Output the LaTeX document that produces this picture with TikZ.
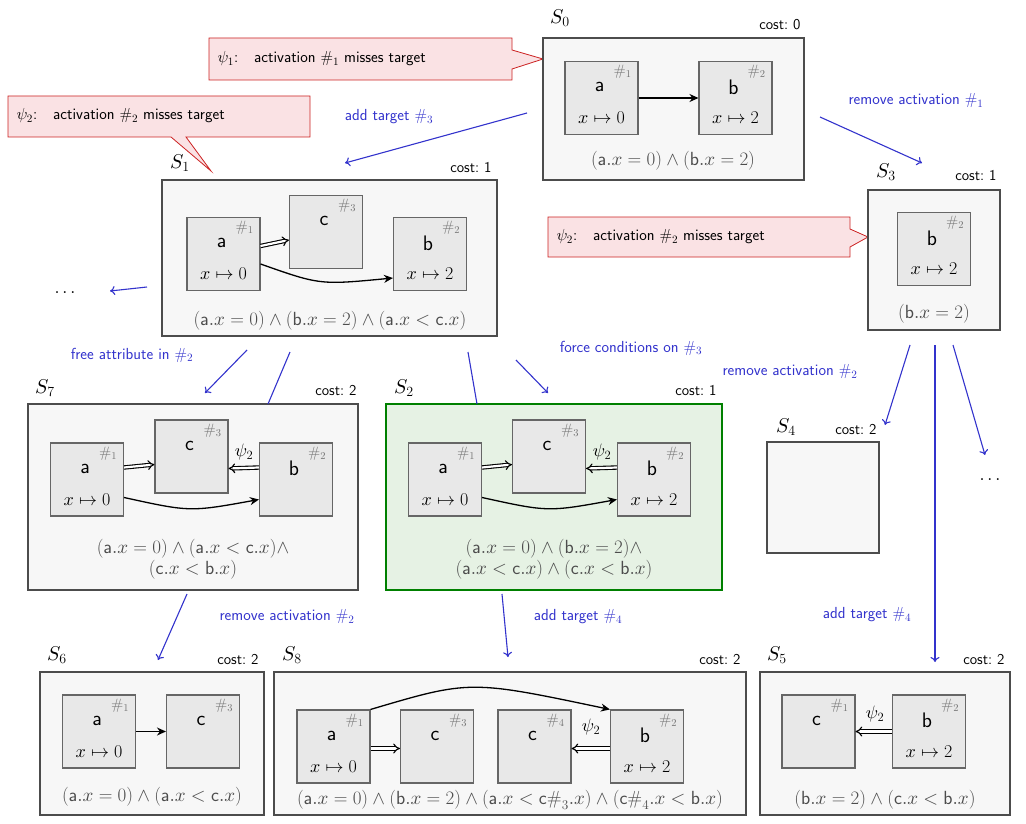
\RequirePackage{fix-cm}
\documentclass[tikz,border=0pt]{standalone}
\usetikzlibrary{arrows.meta,calc}
\definecolor{myblue}{RGB}{51,51,204}
\definecolor{cred}{RGB}{204,34,34}
\definecolor{cpink}{RGB}{250,226,228}
\definecolor{cgreen}{RGB}{0,128,0}
\definecolor{lgreen}{RGB}{230,242,228}
\DeclareFontShape{OML}{cmm}{m}{it}{<->cmmi10}{}
\DeclareFontShape{OMS}{cmsy}{m}{n}{<->cmsy10}{}
\begin{document}
\begin{tikzpicture}[x=1pt,y=-1pt,
  outer/.style={draw=black!70,line width=2pt,fill=black!3},
  ibox/.style={draw=black!60,line width=1.1pt,fill=black!9,minimum width=73pt,minimum height=73pt,inner sep=0pt},
  let/.style={font=\sffamily\fontsize{21}{23}\selectfont},
  idx/.style={font=\sffamily\fontsize{15}{17}\selectfont,text=black!55},
  val/.style={font=\fontsize{18}{20}\selectfont},
  frm/.style={font=\fontsize{19}{21}\selectfont,text=black!70},
  sl/.style={font=\fontsize{20}{22}\selectfont},
  cost/.style={font=\sffamily\fontsize{15}{17}\selectfont,anchor=east},
  blab/.style={font=\sffamily\fontsize{16}{18}\selectfont,text=myblue},
  barr/.style={draw=myblue,line width=1.1pt,-{To[length=5pt,width=9pt]}},
  bline/.style={draw=myblue,line width=1.1pt},
  sarr/.style={line width=1.3pt,-{Stealth[length=9pt,width=8pt]}},
  darr/.style={double,double distance=2.2pt,line width=1.1pt,-{Implies}},
  call/.style={draw=cred,fill=cpink,line width=0.8pt},
  ctext/.style={font=\sffamily\fontsize{16}{18}\selectfont,anchor=west}
]
\newcommand\ibx[5]{%
  \node[ibox] (#1) at (#2) {};
  \node[let] at ([xshift=-2pt,yshift=11pt]#1.center) {#3};
  \node[idx] at ([xshift=-16pt,yshift=-11pt]#1.north east) {\#$_{#4}$};
  \node[val] at ([yshift=-20pt]#1.center) {#5};}
\newcommand\hs{\mbox{\sffamily\#}}
\useasboundingbox (0,0) rectangle (1026,824);

% callouts
\draw[call] (209,38) -- (512,38) -- (512,50) -- (543,59) -- (512,69) -- (512,80) -- (209,80) -- cycle;
\node[ctext] (c1) at (214,59) {$\psi_1$:\quad activation \#$_1$ misses target};
\draw[call] (8,96) -- (310,96) -- (310,137) -- (186,137) -- (211,171) -- (171,137) -- (8,137) -- cycle;
\node[ctext] (c2) at (13,116) {$\psi_2$:\quad activation \#$_2$ misses target};
\draw[call] (548,217) -- (850,217) -- (850,229) -- (868,237) -- (850,247) -- (850,257) -- (548,257) -- cycle;
\node[ctext] (c3) at (553,237) {$\psi_2$:\quad activation \#$_2$ misses target};

% S0
\draw[outer] (543,38) rectangle (804,180);
\node[sl] (s0) at (560,18) {$S_0$};
\node[cost] (k0) at (804,25) {cost:~0};
\ibx{a0}{601.5,98}{a}{1}{$x\mapsto 0$}
\ibx{b0}{735.5,98}{b}{2}{$x\mapsto 2$}
\draw[sarr] (a0) -- (b0);
\node[frm] (f0) at (673,161) {$(\mathsf{a}.x=0)\wedge(\mathsf{b}.x=2)$};

% S1
\draw[outer] (162,180) rectangle (497,336);
\node[sl] (s1) at (180,163) {$S_1$};
\node[cost] (k1) at (495,168) {cost:~1};
\ibx{a1}{223.5,254}{a}{1}{$x\mapsto 0$}
\ibx{c1b}{326,232}{c}{3}{}
\ibx{b1}{430,254}{b}{2}{$x\mapsto 2$}
\draw[darr] ([yshift=8pt]a1.east) -- ([yshift=-8pt]c1b.west);
\draw[sarr] ([yshift=-10pt]a1.east) .. controls (320,285) .. ([yshift=-24pt]b1.west);
\node[frm] (f1) at (330,321) {$(\mathsf{a}.x=0)\wedge(\mathsf{b}.x=2)\wedge(\mathsf{a}.x<\mathsf{c}.x)$};

% S3
\draw[outer] (868,190) rectangle (1000,330);
\node[sl] (s3) at (886,172) {$S_3$};
\node[cost] (k3) at (1000,176) {cost:~1};
\ibx{b3}{934,249}{b}{2}{$x\mapsto 2$}
\node[frm] (f3) at (934,314) {$(\mathsf{b}.x=2)$};

% S7
\draw[outer] (28,404) rectangle (358,590);
\node[sl] (s7) at (45,388) {$S_7$};
\node[cost] (k7) at (360,391) {cost:~2};
\ibx{a7}{87,479.5}{a}{1}{$x\mapsto 0$}
\ibx{c7}{191.5,456.5}{c}{3}{}
\ibx{b7}{296,479.5}{b}{2}{}
\draw[darr] ([yshift=12pt]a7.east) -- ([yshift=-8pt]c7.west);
\draw[darr] ([yshift=12pt]b7.west) -- ([yshift=-12pt]c7.east);
\node[val] (p7) at (244,452) {$\psi_2$};
\draw[sarr] ([yshift=-18pt]a7.east) .. controls (190,512) .. ([yshift=-20pt]b7.west);
\node[frm,align=center] (f7) at (193,559) {$(\mathsf{a}.x=0)\wedge(\mathsf{a}.x<\mathsf{c}.x)\wedge$\\[0pt]$(\mathsf{c}.x<\mathsf{b}.x)$};

% S2
\draw[draw=cgreen,line width=2pt,fill=lgreen] (386,404) rectangle (722,590);
\node[sl] (s2) at (404,388) {$S_2$};
\node[cost] (k2) at (720,391) {cost:~1};
\ibx{a2}{445,479.5}{a}{1}{$x\mapsto 0$}
\ibx{c2}{549,456.5}{c}{3}{}
\ibx{b2}{654,479.5}{b}{2}{$x\mapsto 2$}
\draw[darr] ([yshift=12pt]a2.east) -- ([yshift=-8pt]c2.west);
\draw[darr] ([yshift=12pt]b2.west) -- ([yshift=-12pt]c2.east);
\node[val] (p2) at (602,452) {$\psi_2$};
\draw[sarr] ([yshift=-18pt]a2.east) .. controls (548,512) .. ([yshift=-20pt]b2.west);
\node[frm,align=center] (f2) at (554,559) {$(\mathsf{a}.x=0)\wedge(\mathsf{b}.x=2)\wedge$\\[0pt]$(\mathsf{a}.x<\mathsf{c}.x)\wedge(\mathsf{c}.x<\mathsf{b}.x)$};

% S4
\draw[outer] (767,442) rectangle (879,553);
\node[sl] (s4) at (786,427) {$S_4$};
\node[cost] (k4) at (880,430) {cost:~2};

% S6
\draw[outer] (40,672) rectangle (264,815);
\node[sl] (s6) at (57,655) {$S_6$};
\node[cost] (k6) at (262,660) {cost:~2};
\ibx{a6}{99,731.5}{a}{1}{$x\mapsto 0$}
\ibx{c6}{203,731.5}{c}{3}{}
\draw[sarr] (a6) -- (c6);
\node[frm] (f6) at (152,797) {$(\mathsf{a}.x=0)\wedge(\mathsf{a}.x<\mathsf{c}.x)$};

% S8
\draw[outer] (274,672) rectangle (746,815);
\node[sl] (s8) at (292,655) {$S_8$};
\node[cost] (k8) at (744,660) {cost:~2};
\ibx{a8}{333.5,746.5}{a}{1}{$x\mapsto 0$}
\ibx{c8}{437,746.5}{c}{3}{}
\ibx{d8}{534.5,746.5}{c}{4}{}
\ibx{b8}{647,746.5}{b}{2}{$x\mapsto 2$}
\draw[darr] ([yshift=-2pt]a8.east) -- ([yshift=-2pt]c8.west);
\draw[darr] ([yshift=-2pt]b8.west) -- ([yshift=-2pt]d8.east);
\node[val] (p8) at (591,727) {$\psi_2$};
\draw[sarr] (a8.north east) .. controls (470,680) .. (b8.north west);
\node[frm] (f8) at (510,800) {$(\mathsf{a}.x=0)\wedge(\mathsf{b}.x=2)\wedge(\mathsf{a}.x<\mathsf{c}\hs_3.x)\wedge(\mathsf{c}\hs_4.x<\mathsf{b}.x)$};

% S5
\draw[outer] (760,672) rectangle (1010,815);
\node[sl] (s5) at (777,655) {$S_5$};
\node[cost] (k5) at (1008,660) {cost:~2};
\ibx{c5}{818.5,731.5}{c}{1}{}
\ibx{b5}{929,731.5}{b}{2}{$x\mapsto 2$}
\draw[darr] (b5) -- (c5);
\node[val] (p5) at (875,714) {$\psi_2$};
\node[frm] (f5) at (885,800) {$(\mathsf{b}.x=2)\wedge(\mathsf{c}.x<\mathsf{b}.x)$};

% blue transitions
\coordinate (t1a) at (527,113); \coordinate (t1b) at (345,163);
\draw[barr] (t1a) -- (t1b);
\node[blab] (l1) at (389,117) {add target \#$_3$};
\coordinate (t2a) at (820,117); \coordinate (t2b) at (922,163);
\draw[barr] (t2a) -- (t2b);
\node[blab] (l2) at (916,101) {remove activation \#$_1$};
\coordinate (t3a) at (147,287); \coordinate (t3b) at (110,291);
\draw[barr] (t3a) -- (t3b);
\node[font=\fontsize{18}{20}\selectfont] (d1) at (65,293) {$\ldots$};
\coordinate (t4a) at (247,350); \coordinate (t4b) at (205,393);
\draw[barr] (t4a) -- (t4b);
\node[blab] (l4) at (132,355) {free attribute in \#$_2$};
\coordinate (t5a) at (290,352); \coordinate (t5b) at (268,404);
\draw[bline] (t5a) -- (t5b);
\coordinate (t6a) at (516,360); \coordinate (t6b) at (548,393);
\draw[barr] (t6a) -- (t6b);
\node[blab] (l6) at (631,348) {force conditions on \#$_3$};
\coordinate (t7a) at (468,352); \coordinate (t7b) at (477,404);
\draw[bline] (t7a) -- (t7b);
\coordinate (t8a) at (910,345); \coordinate (t8b) at (885,425);
\draw[barr] (t8a) -- (t8b);
\node[blab] (l8) at (790,372) {remove activation \#$_2$};
\coordinate (t9a) at (935,345); \coordinate (t9b) at (935,662);
\draw[barr] (t9a) -- (t9b);
\node[blab] (l9) at (867,615) {add target \#$_4$};
\coordinate (t10a) at (953,345); \coordinate (t10b) at (985,455);
\draw[barr] (t10a) -- (t10b);
\node[font=\fontsize{18}{20}\selectfont] (d2) at (990,480) {$\ldots$};
\coordinate (t11a) at (187,594); \coordinate (t11b) at (158,660);
\draw[barr] (t11a) -- (t11b);
\node[blab] (l11) at (287,617) {remove activation \#$_2$};
\coordinate (t12a) at (502,594); \coordinate (t12b) at (508,657);
\draw[barr] (t12a) -- (t12b);
\node[blab] (l12) at (578,617) {add target \#$_4$};
\end{tikzpicture}
\end{document}
